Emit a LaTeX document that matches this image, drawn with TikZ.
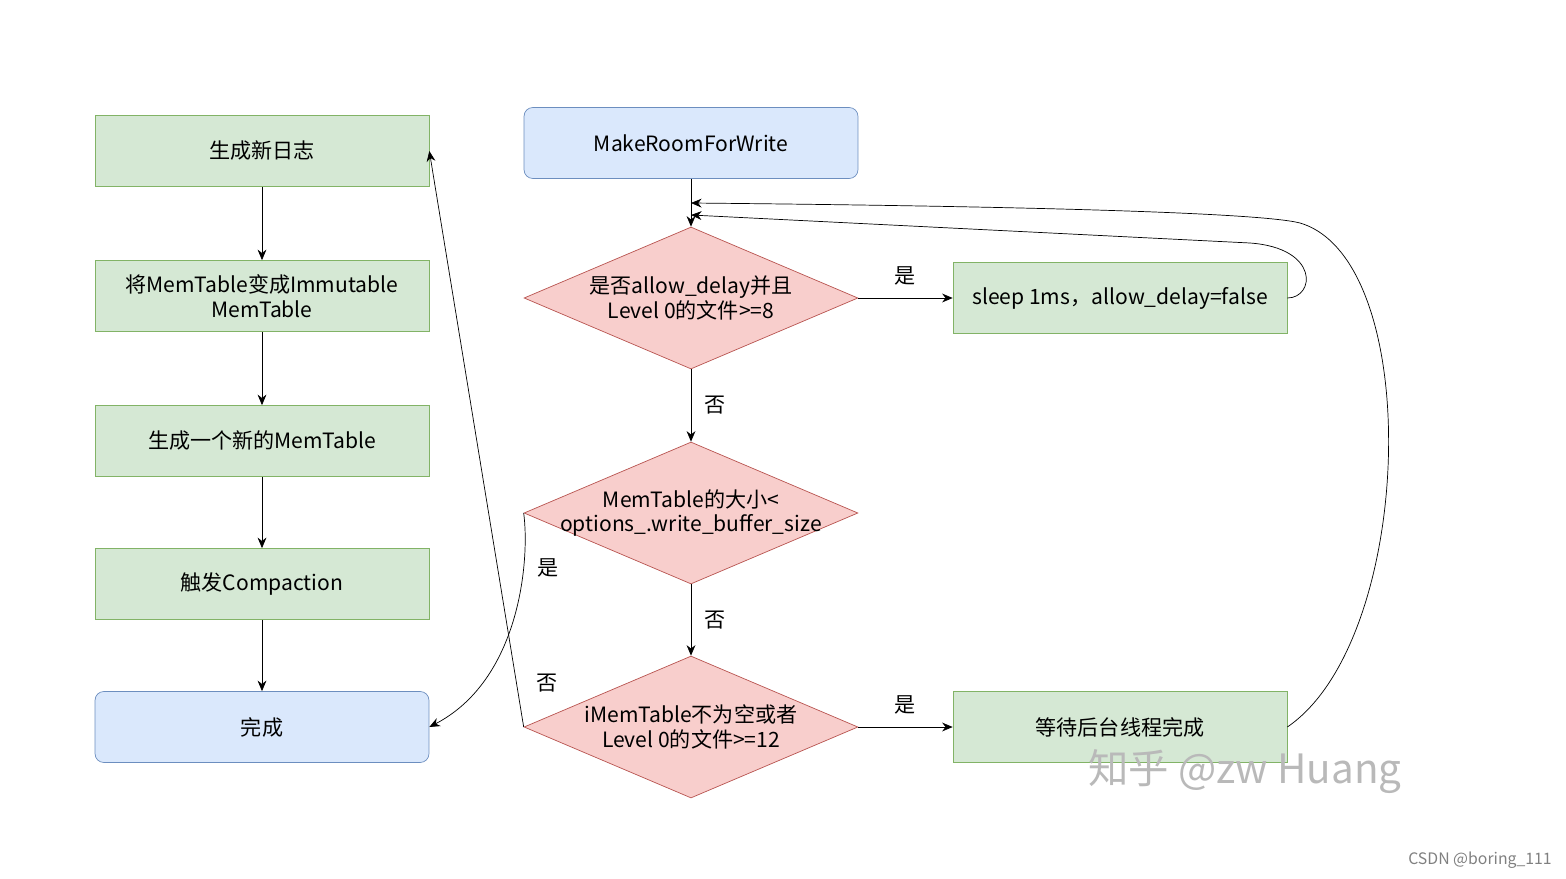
\documentclass[tikz,border=0pt]{standalone}
\usepackage{fontspec}
\setmainfont{Noto Sans CJK SC}
\usetikzlibrary{shapes.geometric,arrows.meta}
\definecolor{gf}{HTML}{D5E8D4}\definecolor{gs}{HTML}{82B366}
\definecolor{bf}{HTML}{DAE8FC}\definecolor{bs}{HTML}{6C8EBF}
\definecolor{rf}{HTML}{F8CECC}\definecolor{rs}{HTML}{B85450}
\begin{document}
\begin{tikzpicture}[x=0.02cm,y=-0.02cm,font=\fontsize{12}{14}\selectfont,
 g/.style={draw=gs,fill=gf,minimum width=6.68cm,minimum height=1.42cm,align=center,inner sep=0},
 b/.style={g,draw=bs,fill=bf,rounded corners=5pt},
 d/.style={diamond,draw=rs,fill=rf,minimum width=6.68cm,minimum height=2.84cm,aspect=2.35,inner sep=0},
 a/.style={-{Stealth[length=6pt,width=5pt]},black},
 l/.style={font=\fontsize{12}{14}\selectfont}]
\useasboundingbox (0,0) rectangle (1566,879);
\node[g] (n1) at (262,151) {生成新日志};
\node[g] (n2) at (262,296) {将MemTable变成Immutable\\MemTable};
\node[g] (n3) at (262,441) {生成一个新的MemTable};
\node[g] (n4) at (262,584) {触发Compaction};
\node[b] (n5) at (262,727) {完成};
\node[b] (m) at (691,143) {MakeRoomForWrite};
\node[d] (d1) at (691,298) {};
\node[align=center] at (d1) {是否allow\_delay并且\\Level 0的文件>=8};
\node[d] (d2) at (691,513) {};
\node[align=center] at (d2) {MemTable的大小<\\options\_.write\_buffer\_size};
\node[d] (d3) at (691,727) {};
\node[align=center] at (d3) {iMemTable不为空或者\\Level 0的文件>=12};
\node[g] (s) at (1120,298) {sleep 1ms，allow\_delay=false};
\node[g] (w) at (1120,727) {等待后台线程完成};
\coordinate (t1) at (691,215);
\coordinate (t2) at (691,203);
\draw[a] (n1)--(n2); \draw[a] (n2)--(n3); \draw[a] (n3)--(n4); \draw[a] (n4)--(n5);
\draw[a] (m)--(d1);
\draw[a] (d1)--node[l,above,pos=0.5,yshift=4pt]{是}(s);
\draw[a] (d1)--node[l,right,xshift=4pt]{否}(d2);
\draw[a] (d2)--node[l,right,xshift=4pt]{否}(d3);
\draw[a] (d3)--node[l,above,yshift=4pt]{是}(w);
\draw[a] (s.east) .. controls (1315,298) and (1320,248) .. (1250,243) -- (t1);
\draw[a] (w.east) .. controls (1415,640) and (1425,260) .. (1300,223) .. controls (1250,210) and (900,205) .. (t2);
\draw[a] (d2.west) .. controls (530,560) and (520,680) .. (n5.east);
\node[l] at (548,568) {是};
\draw[a] (d3.west) -- (n1.east);
\node[l] at (547,683) {否};
\node[text=gray!55,font=\fontsize{23}{26}\selectfont] at (1245,772) {知乎 @zw Huang};
\node[text=gray,font=\fontsize{9}{11}\selectfont] at (1480,860) {CSDN @boring\_111};
\end{tikzpicture}
\end{document}
